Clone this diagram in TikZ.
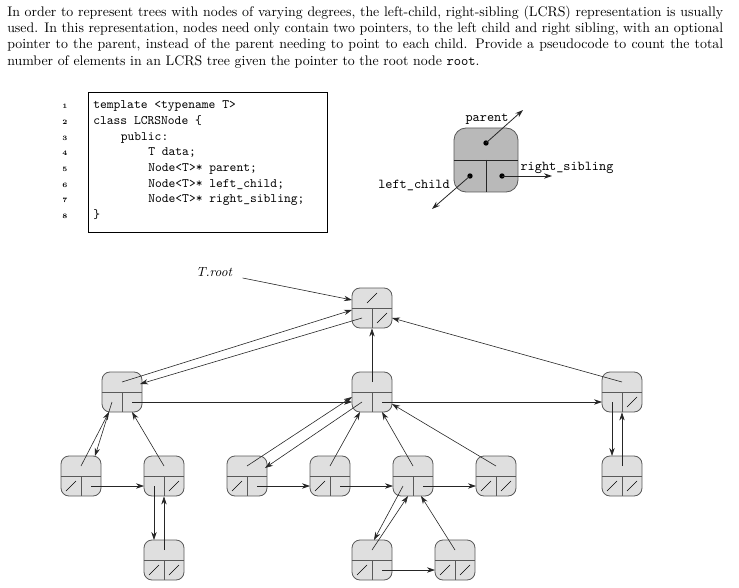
\documentclass[tikz,border=0pt]{standalone}
\usetikzlibrary{arrows.meta,calc}
\newcommand\lnode[6]{%
  \node[lnd] (#1) at (#2,#3) {};
  \draw[gray!70!black,line width=0.6pt] (#1.west) -- (#1.east) (#1.center) -- (#1.south);
  \coordinate (#1-p) at ($(#1)+(0,-10)$);
  \coordinate (#1-l) at ($(#1)+(-10,10)$);
  \coordinate (#1-r) at ($(#1)+(10,10)$);
  \ifnum#4=1 \draw[thin] ($(#1-p)+(-5,5)$) -- ++(10,-10);\fi
  \ifnum#5=1 \draw[thin] ($(#1-l)+(-5,5)$) -- ++(10,-10);\fi
  \ifnum#6=1 \draw[thin] ($(#1-r)+(-5,5)$) -- ++(10,-10);\fi
}
\begin{document}
\begin{tikzpicture}[x=0.75pt,y=-0.75pt,
  lnd/.style={draw=gray!70!black,fill=gray!25,rounded corners=6pt,minimum size=30pt,inner sep=0pt,line width=0.6pt},
  ar/.style={-{Stealth[length=6pt,width=4pt]},black!85,line width=0.45pt},
  code/.style={anchor=base west,font=\ttfamily\fontsize{9.7}{11}\selectfont,inner sep=0pt},
  num/.style={anchor=base,font=\tiny\bfseries,inner sep=0pt},
  lab/.style={font=\ttfamily\fontsize{10.2}{12}\selectfont}]
\useasboundingbox (0,0) rectangle (739,588);
\node[anchor=north west,text width=537pt,align=justify,inner sep=0pt,font=\fontsize{10.4}{12.1}\selectfont] (para) at (7,6)
 {In order to represent trees with nodes of varying degrees, the left-child, right-sibling (LCRS) representation is usually used. In this representation, nodes need only contain two pointers, to the left child and right sibling, with an optional pointer to the parent, instead of the parent needing to point to each child. Provide a pseudocode to count the total number of elements in an LCRS tree given the pointer to the root node \texttt{root}.};
% code box
\draw[line width=0.6pt] (88,92) rectangle (327,232);
\foreach \i/\t/\ind in {1/{template <typename T>}/0,2/{class LCRSNode \{}/0,3/{public:}/1,4/{T data;}/2,5/{Node<T>* parent;}/2,6/{Node<T>* left\_child;}/2,7/{Node<T>* right\_sibling;}/2,8/{\}}/0}{
  \node[num] (n\i) at (65,{93+15.7*\i}) {\i};
  \node[code] (c\i) at ({93+27.5*\ind},{93+15.7*\i}) {\t};
}
% legend node
\node[draw=gray!70!black,fill=gray!55,rounded corners=9pt,minimum size=48pt,inner sep=0pt,line width=0.6pt] (big) at (486,160) {};
\draw[gray!30!black,line width=0.6pt] (big.west) -- (big.east) (big.center) -- (big.south);
\fill (486,143) circle (2pt) coordinate (bp);
\fill (470,176) circle (2pt) coordinate (bl);
\fill (502,176) circle (2pt) coordinate (br);
\coordinate (bpe) at (523,110);
\coordinate (ble) at (432,209);
\coordinate (bre) at (552,176);
\draw[ar,line width=0.6pt] (bp) -- (bpe);
\draw[ar,line width=0.6pt] (bl) -- (ble);
\draw[ar,line width=0.6pt] (br) -- (bre);
\node[lab] (lp) at (487,119) {parent};
\node[lab] (ll) at (414,185) {left\_child};
\node[lab] (lr) at (567,168) {right\_sibling};
% tree
\lnode{R}{372}{308}{1}{0}{1}
\lnode{A}{122}{392}{0}{0}{0}
\lnode{B}{372}{392}{0}{0}{0}
\lnode{C}{622}{392}{0}{0}{1}
\lnode{D}{81}{476}{0}{1}{0}
\lnode{E}{164}{476}{0}{0}{1}
\lnode{F}{247}{476}{0}{1}{0}
\lnode{G}{330}{476}{0}{1}{0}
\lnode{H}{413}{476}{0}{0}{0}
\lnode{I}{496}{476}{0}{1}{1}
\lnode{J}{622}{476}{0}{1}{1}
\lnode{K}{164}{560}{0}{1}{1}
\lnode{L}{372}{560}{0}{1}{0}
\lnode{M}{455}{560}{0}{1}{1}
\node[font=\itshape] (troot) at (214,272) {T.root};
\draw[ar] ($(troot.east)+(6,6)$) -- ($(R)+(-20,-8)$);
% parent pointers
\draw[ar] (A-p) -- ($(R)+(-20,2)$);
\draw[ar] (B-p) -- (R.south);
\draw[ar] (C-p) -- ($(R)+(20,10)$);
\draw[ar] (D-p) -- ($(A)+(-13,20)$);
\draw[ar] (E-p) -- ($(A)+(10,20)$);
\draw[ar] (F-p) -- ($(B)+(-20,5)$);
\draw[ar] (G-p) -- ($(B)+(-12,20)$);
\draw[ar] (H-p) -- ($(B)+(10,20)$);
\draw[ar] (I-p) -- ($(B)+(20,12)$);
\draw[ar] (J-p) -- (C.south);
\draw[ar] (K-p) -- (E.south);
\draw[ar] (L-p) -- ($(H)+(-5,20)$);
\draw[ar] (M-p) -- ($(H)+(8,20)$);
% left child pointers
\draw[ar] (R-l) -- ($(A)+(18,-8)$);
\draw[ar] (A-l) -- ($(D)+(14,-20)$);
\draw[ar] (B-l) -- ($(F)+(18,-8)$);
\draw[ar] (C-l) -- ($(J)+(-10,-20)$);
\draw[ar] (E-l) -- ($(K)+(-10,-20)$);
\draw[ar] (H-l) -- ($(L)+(2,-20)$);
% right sibling pointers
\draw[ar] (A-r) -- ($(B)+(-20,10)$);
\draw[ar] (B-r) -- ($(C)+(-20,10)$);
\draw[ar] (D-r) -- ($(E)+(-20,10)$);
\draw[ar] (F-r) -- ($(G)+(-20,10)$);
\draw[ar] (G-r) -- ($(H)+(-20,10)$);
\draw[ar] (H-r) -- ($(I)+(-20,10)$);
\draw[ar] (L-r) -- ($(M)+(-20,10)$);
\end{tikzpicture}
\end{document}
